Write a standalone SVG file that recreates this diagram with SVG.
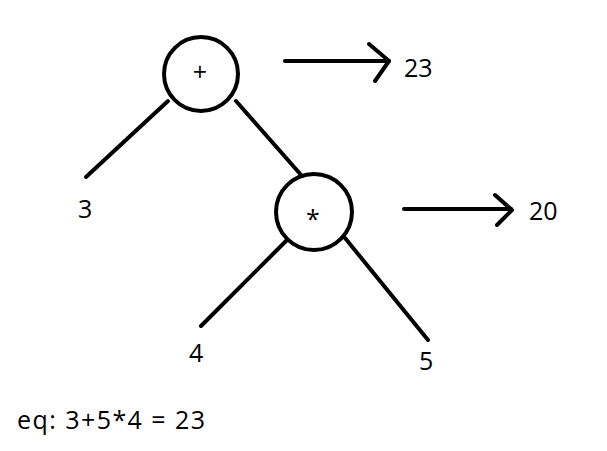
<svg xmlns="http://www.w3.org/2000/svg" width="607" height="451" viewBox="0 0 607 451">
<style>
.s{fill:none;stroke:#000;stroke-width:4;stroke-linecap:round;stroke-linejoin:round}
.t{font-family:"Open Sans","Liberation Sans",sans-serif;font-size:25px;fill:#000}
.o{font-family:"Open Sans","Liberation Sans",sans-serif;font-size:25px;fill:#000;text-anchor:middle}
</style>
<rect width="607" height="451" fill="#fff"/>
<g id="connectors">
<line class="s" x1="168" y1="101" x2="86" y2="177"/>
<line class="s" x1="236" y1="101" x2="302" y2="176"/>
<line class="s" x1="287" y1="240" x2="201" y2="326"/>
<line class="s" x1="345" y1="238" x2="428" y2="340"/>
<line class="s" x1="285" y1="61" x2="389" y2="61"/>
<polyline class="s" points="369,44 389,61 375,81"/>
<line class="s" x1="404" y1="209" x2="511" y2="209"/>
<polyline class="s" points="495,195 512,210 497,225"/>
</g>
<g id="node-plus">
<circle class="s" cx="201" cy="74" r="37"/>
<text class="o" x="200" y="81">+</text>
</g>
<g id="node-times">
<circle class="s" cx="314" cy="212" r="38"/>
<text class="o" x="313" y="228">*</text>
</g>
<g id="leaf-3"><text class="t" x="78" y="218">3</text></g>
<g id="leaf-4"><text class="t" x="189" y="362">4</text></g>
<g id="leaf-5"><text class="t" x="419" y="370">5</text></g>
<g id="result-23"><text class="t" x="404" y="77">23</text></g>
<g id="result-20"><text class="t" x="529" y="220">20</text></g>
<text class="t" x="17" y="429" textLength="188" lengthAdjust="spacing">eq: 3+5*4 = 23</text>
</svg>
